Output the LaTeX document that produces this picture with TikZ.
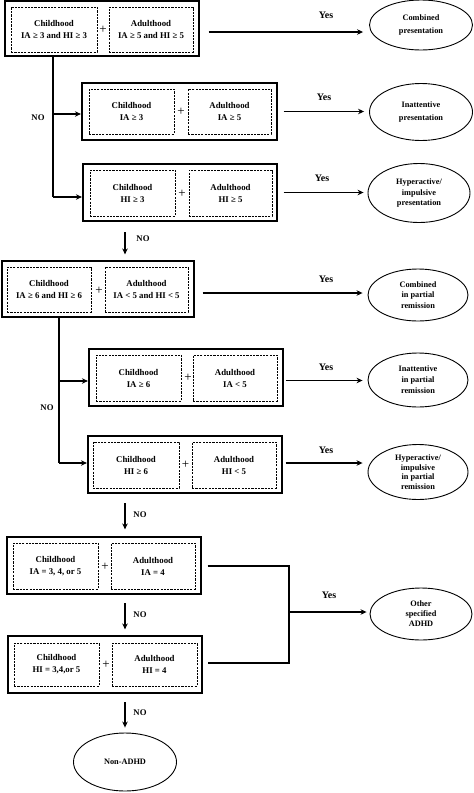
\documentclass[tikz,border=0pt]{standalone}
\usepackage{fontspec}
\setmainfont{Liberation Serif}
\usetikzlibrary{shapes.geometric,arrows.meta}
\begin{document}
\begin{tikzpicture}[x=1pt,y=-1pt,
  obox/.style={draw, line width=1.2pt, inner sep=0pt, minimum width=194pt, minimum height=57pt},
  ibox/.style={draw, line width=1pt, dash pattern=on 2.2pt off 1.1pt, inner sep=0pt, align=center,
    minimum height=46pt, font=\fontsize{8.8}{12}\selectfont\bfseries},
  ell/.style={draw, ellipse, line width=0.9pt, inner sep=0pt, align=center,
    font=\fontsize{8.3}{11}\selectfont\bfseries},
  link/.style={line width=1.3pt},
  arr/.style={line width=1.3pt, -{Stealth[length=6pt,width=5.5pt]}},
  lab/.style={font=\fontsize{10}{10}\selectfont\bfseries, inner sep=0pt},
  nolab/.style={font=\fontsize{8.7}{9}\selectfont\bfseries, inner sep=0pt},
  plus/.style={font=\fontsize{13}{13}\selectfont, inner sep=0pt}
]
\fill[white] (0,0) rectangle (474,793);
\useasboundingbox (0,0) rectangle (474,793);

% ---- Box 1
\node[obox, minimum height=55pt] (b1) at (102,28.5) {};
\node[ibox, minimum width=86pt, minimum height=45pt] (b1l) at (54,29.5) {Childhood\\IA ≥ 3 and HI ≥ 3};
\node[ibox, minimum width=84pt, minimum height=45pt] (b1r) at (151,29.5) {Adulthood\\IA ≥ 5 and HI ≥ 5};
\node[plus] (p1) at (103,30) {+};
% ---- Box 2
\node[obox, minimum width=195pt] (b2) at (179.5,111.5) {};
\node[ibox, minimum width=85pt, minimum height=45pt] (b2l) at (131.5,111.5) {Childhood\\IA ≥ 3};
\node[ibox, minimum width=83pt, minimum height=45pt] (b2r) at (229.5,111.5) {Adulthood\\IA ≥ 5};
\node[plus] (p2) at (181,112) {+};
% ---- Box 3
\node[obox] (b3) at (180,192.5) {};
\node[ibox, minimum width=85pt] (b3l) at (132.5,193) {Childhood\\HI ≥ 3};
\node[ibox, minimum width=83pt] (b3r) at (230.5,193) {Adulthood\\HI ≥ 5};
\node[plus] (p3) at (182,194) {+};
% ---- Box 4
\node[obox, minimum width=192pt, minimum height=56pt] (b4) at (98,289) {};
\node[ibox, minimum width=84pt, minimum height=45pt] (b4l) at (49,289.5) {Childhood\\IA ≥ 6 and HI ≥ 6};
\node[ibox, minimum width=83pt, minimum height=45pt] (b4r) at (146.5,289.5) {Adulthood\\IA < 5 and HI < 5};
\node[plus] (p4) at (99,291) {+};
% ---- Box 5
\node[obox] (b5) at (186,377.5) {};
\node[ibox, minimum width=85pt] (b5l) at (138.5,378) {Childhood\\IA ≥ 6};
\node[ibox, minimum width=84pt] (b5r) at (235,378) {Adulthood\\IA < 5};
\node[plus] (p5) at (188,378) {+};
% ---- Box 6
\node[obox] (b6) at (185,464.5) {};
\node[ibox, minimum width=86pt] (b6l) at (136,465) {Childhood\\HI ≥ 6};
\node[ibox, minimum width=84pt] (b6r) at (234,465) {Adulthood\\HI < 5};
\node[plus] (p6) at (185.5,465) {+};
% ---- Box 7
\node[obox] (b7) at (104,565.5) {};
\node[ibox, minimum width=85pt] (b7l) at (55.5,566) {Childhood\\IA = 3, 4, or 5};
\node[ibox, minimum width=84pt] (b7r) at (153,566) {Adulthood\\IA = 4};
\node[plus] (p7) at (105,567) {+};
% ---- Box 8
\node[obox] (b8) at (105,664.5) {};
\node[ibox, minimum width=85pt, minimum height=43pt] (b8l) at (56.5,664.5) {Childhood\\HI = 3,4,or 5};
\node[ibox, minimum width=85pt, minimum height=43pt] (b8r) at (154.5,664.5) {Adulthood\\HI = 4};
\node[plus] (p8) at (106,665) {+};

% ---- Ellipses
\node[ell, minimum width=103pt, minimum height=50pt, font=\fontsize{8.3}{13}\selectfont\bfseries] (e1) at (421,25) {Combined\\presentation};
\node[ell, minimum width=103pt, minimum height=57pt, font=\fontsize{8.3}{13}\selectfont\bfseries] (e2) at (421,112) {Inattentive\\presentation};
\node[ell, minimum width=102pt, minimum height=59pt, font=\fontsize{8.3}{10.5}\selectfont\bfseries] (e3) at (419,193) {Hyperactive/\\impulsive\\presentation};
\node[ell, minimum width=100pt, minimum height=52pt, font=\fontsize{8.3}{10.5}\selectfont\bfseries] (e4) at (418,295) {Combined\\in partial\\remission};
\node[ell, minimum width=100pt, minimum height=54pt, font=\fontsize{8.3}{11}\selectfont\bfseries] (e5) at (418,380) {Inattentive\\in partial\\remission};
\node[ell, minimum width=100pt, minimum height=55pt, font=\fontsize{8.3}{9.5}\selectfont\bfseries] (e6) at (418,472) {Hyperactive/\\impulsive\\in partial\\remission};
\node[ell, minimum width=102pt, minimum height=52pt, font=\fontsize{8.3}{10}\selectfont\bfseries] (e7) at (421,614) {Other\\specified\\ADHD};
\node[ell, minimum width=103pt, minimum height=58pt] (e8) at (125,762) {Non-ADHD};

% ---- Yes arrows
\draw[arr, shorten <=9pt, shorten >=6pt] ([yshift=-3.5pt]b1.east) -- ([yshift=-3.5pt]b1.east -| e1.west);
\draw[arr, shorten <=6pt, shorten >=5pt] (b2.east) -- (b2.east -| e2.west);
\draw[arr, shorten <=6pt, shorten >=4pt] (b3.east) -- (b3.east -| e3.west);
\draw[arr, shorten <=8pt, shorten >=5pt] ([yshift=-4pt]b4.east) -- ([yshift=-4pt]b4.east -| e4.west);
\draw[arr, shorten <=2pt, shorten >=5pt] ([yshift=-3pt]b5.east) -- ([yshift=-3pt]b5.east -| e5.west);
\draw[arr, shorten <=3pt, shorten >=5pt] ([yshift=1.5pt]b6.east) -- ([yshift=1.5pt]b6.east -| e6.west);
\node[lab] (y1) at (326,15) {Yes};
\node[lab] (y2) at (324,97) {Yes};
\node[lab] (y3) at (322,178) {Yes};
\node[lab] (y4) at (326,279) {Yes};
\node[lab] (y5) at (326,367) {Yes};
\node[lab] (y6) at (326,450) {Yes};
\node[lab] (y7) at (329,595) {Yes};

% ---- merge to Other specified
\coordinate (m1) at (289,566);
\coordinate (m2) at (289,663);
\coordinate (m3) at (289,612);
\draw[link] ([xshift=6pt]b7.east |- m1) -- (m1) -- (m2) -- ([xshift=5pt]b8.east |- m2);
\draw[arr, shorten >=3pt] (m3) -- (m3 -| e7.west);

% ---- branch 1
\coordinate (j1) at (53,114);
\coordinate (j2) at (53,197);
\draw[link] (b1.south -| j1) -- (j2);
\draw[arr, shorten >=0.5pt] (j1) -- (j1 -| b2.west);
\draw[arr, shorten >=0.5pt] (j2) -- (j2 -| b3.west);
\node[nolab] (no1) at (38,118) {NO};
% ---- branch 2
\coordinate (j3) at (59,381);
\coordinate (j4) at (59,463);
\draw[link] (b4.south -| j3) -- (j4);
\draw[arr, shorten >=0.5pt] (j3) -- (j3 -| b5.west);
\draw[arr, shorten >=0.5pt] (j4) -- (j4 -| b6.west);
\node[nolab] (no3) at (47,408) {NO};

% ---- NO arrows down
\coordinate (n1) at (125,232);
\coordinate (n2) at (125,503);
\coordinate (n3) at (125,603);
\coordinate (n4) at (125,702);
\draw[arr, shorten >=6pt] (n1) -- (n1 |- b4.north);
\draw[arr, shorten >=7pt] (n2) -- (n2 |- b7.north);
\draw[arr, shorten >=6pt] (n3) -- (n3 |- b8.north);
\draw[arr, shorten >=5pt] (n4) -- (n4 |- e8.north);
\node[nolab] (no2) at (143,239) {NO};
\node[nolab] (no4) at (140,515) {NO};
\node[nolab] (no5) at (140,615) {NO};
\node[nolab] (no6) at (140,713) {NO};
\end{tikzpicture}
\end{document}
